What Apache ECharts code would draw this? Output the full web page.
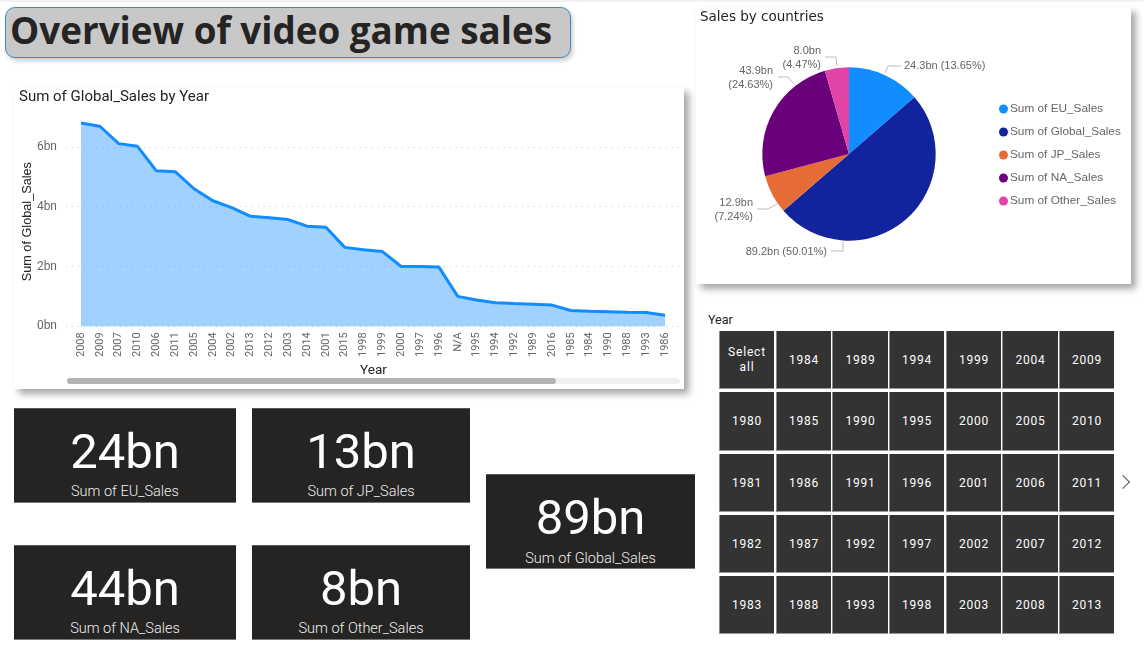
<!DOCTYPE html>
<html>
<head>
<meta charset="utf-8">
<title>Overview of video game sales</title>
<script src="https://cdn.jsdelivr.net/npm/echarts@6/dist/echarts.min.js"></script>
<style>
html, body { margin: 0; padding: 0; background: #fff; overflow: hidden; }
body { width: 1144px; height: 652px; position: relative; font-family: Roboto, sans-serif; }
#topline { position: absolute; left: 0; top: 0; width: 1144px; height: 2px; background: #f2f2f2; }
#title { position: absolute; left: 5px; top: 7px; width: 564px; height: 49px; background: #c8c8c8; border: 1px solid #3f86cf; border-radius: 10px; box-shadow: 2px 3px 4px rgba(0,0,0,.2); font: bold 36.8px/45px "Open Sans", sans-serif; color: #252423; white-space: nowrap; text-indent: 4px; }
.panel { position: absolute; background: #fff; box-shadow: 5px 5px 7px rgba(0,0,0,.35); }
#panel1 { left: 14px; top: 87px; width: 670px; height: 302px; }
#panel2 { left: 696px; top: 7px; width: 435px; height: 277px; }
#track { position: absolute; left: 67px; top: 378px; width: 613px; height: 6px; background: #f0f0f0; border-radius: 3px; }
#thumb { position: absolute; left: 67px; top: 378px; width: 489px; height: 6px; background: #b3b3b3; border-radius: 3px; }
.card { position: absolute; background: #252423; border-top: 1px solid #555; border-bottom: 1px solid #777; box-sizing: border-box; color: #fff; text-align: center; }
.card .num { position: absolute; left: 0; right: 0; font: 49px/50px Roboto, sans-serif; }
.card .lab { position: absolute; left: 0; right: 0; font: 300 14.5px/16px Roboto, sans-serif; color: #f0f0f0; }
#yearlabel { position: absolute; left: 708px; top: 313px; font: 12.5px/14px Roboto, sans-serif; color: #252423; }
.tile { position: absolute; background: #333; border-left: 1px solid #888; border-bottom: 1px solid #999; box-sizing: border-box; padding-top: 1px; color: #fff; font: 12px/15px Roboto, sans-serif; letter-spacing: .8px; display: flex; align-items: center; justify-content: center; text-align: center; }
#chevron { position: absolute; left: 1118px; top: 477px; width: 9px; height: 9px; border-top: 1px solid #555; border-right: 1px solid #555; transform: rotate(45deg); }
#main { position: absolute; left: 0; top: 0; width: 1144px; height: 652px; }
</style>
</head>
<body>
<div id="topline"></div>
<div id="title">Overview of video game sales</div>
<div class="panel" id="panel1"></div>
<div class="panel" id="panel2"></div>
<div id="track"></div>
<div id="thumb"></div>
<div id="yearlabel">Year</div>
<div id="chevron"></div>
<div id="main"></div>
<script>
// 按销售额排序的年份
var years = ["2008","2009","2007","2010","2006","2011","2005","2004","2002","2013","2012","2003","2014","2001","2015","1998","1999","2000","1997","1996","N/A","1995","1994","1992","1989","2016","1985","1984","1990","1988","1993","1986"];
var globalSales = [6.8,6.69,6.11,6.02,5.2,5.17,4.6,4.2,3.97,3.68,3.63,3.57,3.35,3.31,2.64,2.56,2.5,2.0,2.0,1.98,1.0,0.88,0.79,0.76,0.74,0.71,0.53,0.5,0.49,0.47,0.46,0.37];

// 饼图
var pieNames = ["Sum of EU_Sales","Sum of Global_Sales","Sum of JP_Sales","Sum of NA_Sales","Sum of Other_Sales"];
var pieValues = [24.3,89.2,12.9,43.9,8.0];
var pieShares = ["13.65","50.01","7.24","24.63","4.47"];
var pieColors = ["#118DFF","#12239E","#E66C37","#6B007B","#E044A7"];

// 卡片
var cardValues = ["24bn","13bn","89bn","44bn","8bn"];
var cardLabels = ["Sum of EU_Sales","Sum of JP_Sales","Sum of Global_Sales","Sum of NA_Sales","Sum of Other_Sales"];

// 年份切片器
var slicerYears = ["Select all","1980","1981","1982","1983","1984","1985","1986","1987","1988","1989","1990","1991","1992","1993","1994","1995","1996","1997","1998","1999","2000","2001","2002","2003","2004","2005","2006","2007","2008","2009","2010","2011","2012","2013"];

var cardBoxes = [[14,408,222,95,18,75],[252,408,218,95,18,75],[486,474,209,95,18,76],[14,545,222,95,18,75],[252,545,218,95,18,75]];
cardValues.forEach(function (v, i) {
    var b = cardBoxes[i];
    var d = document.createElement("div");
    d.className = "card";
    d.style.cssText = "left:" + b[0] + "px;top:" + b[1] + "px;width:" + b[2] + "px;height:" + b[3] + "px";
    d.innerHTML = '<div class="num" style="top:' + b[4] + 'px">' + v + '</div><div class="lab" style="top:' + b[5] + 'px">' + cardLabels[i] + '</div>';
    document.body.insertBefore(d, document.getElementById("main"));
});

var colX = [719,776,832,889,946,1002,1059], colW = [55,55,56,55,55,56,55];
var rowY = [331,392,454,515,576], rowH = [58,59,58,58,58];
slicerYears.forEach(function (y, i) {
    var c = Math.floor(i / 5), r = i % 5;
    var d = document.createElement("div");
    d.className = "tile";
    d.style.cssText = "left:" + colX[c] + "px;top:" + rowY[r] + "px;width:" + colW[c] + "px;height:" + rowH[r] + "px";
    d.textContent = y;
    document.body.insertBefore(d, document.getElementById("main"));
});

// 标签位置：[x, y, align, 引线点]
var pieLabelPos = [
    [904,66,"left",[[901,66],[888,66],[885,73]]],
    [827,252,"right",[[831,251],[843,251],[843,242]]],
    [753,210,"right",[[757,209],[768,209],[777,204]]],
    [773,78,"right",[[778,77],[788,77],[794,84]]],
    [821,58,"right",[[825,57],[836,57],[837,66]]]
];
var pieTwoLines = [false,false,true,true,true];

var chart = echarts.init(document.getElementById("main"), null, { renderer: "canvas" });
chart.setOption({
    animation: false,
    title: [
        { text: "Sum of Global_Sales by Year", left: 19, top: 90, padding: 0, textStyle: { fontSize: 15, fontWeight: "normal", color: "#252423", fontFamily: "Roboto" } },
        { text: "Sales by countries", left: 700, top: 10, padding: 0, textStyle: { fontSize: 13.5, fontWeight: "normal", color: "#252423", fontFamily: "DejaVu Sans" } }
    ],
    legend: {
        orient: "vertical", left: 994, top: 98, icon: "circle", itemWidth: 9, itemHeight: 9, itemGap: 11,
        data: pieNames,
        textStyle: { color: "#666", fontSize: 11.8, fontFamily: "Liberation Sans", padding: [0,0,0,-3] }
    },
    grid: [
        { left: 66, right: 463, top: 117, height: 209.3 },
        { left: 81, right: 479, top: 117, height: 209.3 }
    ],
    xAxis: [
        { gridIndex: 0, type: "value", min: 0, max: 1, axisLabel: { show: false }, axisLine: { show: false }, axisTick: { show: false }, splitLine: { show: false },
          name: "Year", nameLocation: "middle", nameGap: 37, nameTextStyle: { fontSize: 13.5, color: "#252423", fontFamily: "Roboto" } },
        { gridIndex: 1, type: "category", data: years, boundaryGap: false, axisLine: { show: false }, axisTick: { show: false },
          axisLabel: { rotate: 90, interval: 0, margin: 6, fontSize: 11, color: "#666", fontFamily: "Roboto" } }
    ],
    yAxis: [
        { gridIndex: 0, type: "value", min: 0, max: 7, interval: 2, axisLine: { show: false }, axisTick: { show: false },
          axisLabel: { margin: 9, fontSize: 12, color: "#666", fontFamily: "Roboto", formatter: function (v) { return v === 7 ? "" : v + "bn"; } },
          splitLine: { showMaxLine: false, lineStyle: { type: [1,5], color: "#ccc" } } },
        // 轴标题放在第二个 y 轴上，免得被刻度标签挤开
        { gridIndex: 1, type: "value", min: 0, max: 7, interval: 2, axisLine: { show: false }, axisTick: { show: false }, axisLabel: { show: false }, splitLine: { show: false },
          name: "Sum of Global_Sales", nameLocation: "middle", nameGap: 47, nameTextStyle: { fontSize: 12.7, color: "#252423", fontFamily: "Liberation Sans" } }
    ],
    series: [
        {
            type: "line", xAxisIndex: 1, yAxisIndex: 1, data: globalSales, showSymbol: false,
            lineStyle: { color: "#118DFF", width: 3 },
            itemStyle: { color: "#118DFF" },
            areaStyle: { color: "#118DFF", opacity: 0.4 }
        },
        {
            type: "pie", center: [849, 154], radius: [0, 86.7], startAngle: 90, clockwise: true,
            data: pieNames.map(function (n, i) { return { name: n, value: pieValues[i], itemStyle: { color: pieColors[i] } }; }),
            label: {
                color: "#666", fontSize: 11, fontFamily: "Liberation Sans", lineHeight: 14,
                formatter: function (p) {
                    var sep = pieTwoLines[p.dataIndex] ? "\n" : " ";
                    return pieValues[p.dataIndex].toFixed(1) + "bn" + sep + "(" + pieShares[p.dataIndex] + "%)";
                }
            },
            labelLine: { show: true, lineStyle: { color: "#bbb", width: 1 } },
            labelLayout: function (p) {
                var a = pieLabelPos[p.dataIndex];
                return { x: a[0], y: a[1], align: a[2], verticalAlign: "middle", labelLinePoints: a[3] };
            }
        }
    ]
});
</script>
</body>
</html>
